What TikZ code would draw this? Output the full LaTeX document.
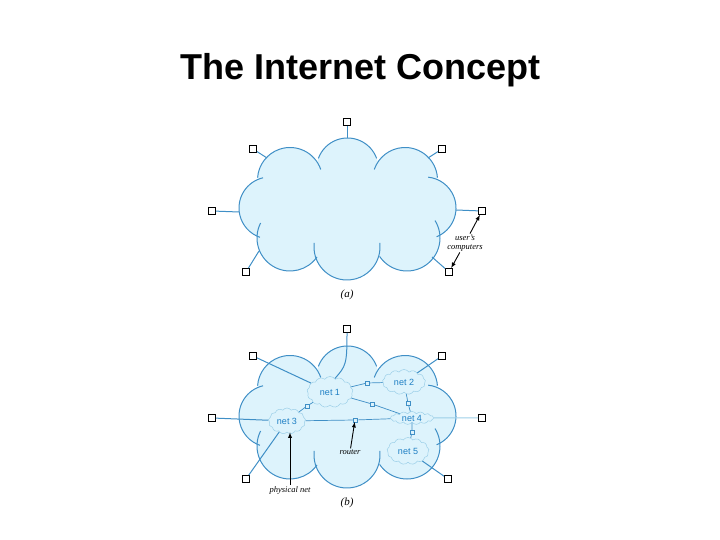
\documentclass[tikz,border=0pt]{standalone}
\usepackage{fontspec}
\usepackage{xcolor}
\setmainfont{Liberation Serif}
\setsansfont{Liberation Sans}
\usetikzlibrary{shapes.symbols, arrows, positioning}
\definecolor{cloudfill}{HTML}{DDF3FC}
\definecolor{cloudline}{HTML}{3F8FC6}
\definecolor{netline}{HTML}{9CCFE8}
\definecolor{nettext}{HTML}{1E7FC4}

\begin{document}
\begin{tikzpicture}[x=1pt,y=1pt,
    computer/.style={draw=black, fill=white, line width=0.9pt, minimum size=7pt, inner sep=0pt},
    router/.style={draw=cloudline, fill=cloudfill, line width=0.4pt, minimum size=3.5pt, inner sep=0pt},
    link/.style={draw=cloudline, line width=1pt},
    netcloud/.style={cloud, cloud ignores aspect, cloud puffs=13, cloud puff arc=110, draw=netline, fill=cloudfill,
        line width=0.5pt, inner sep=0pt, text=nettext, font=\sffamily\fontsize{9}{10}\selectfont},
    label/.style={font=\itshape\fontsize{8.5}{9}\selectfont, inner sep=1pt, align=center},
    caption/.style={font=\itshape\fontsize{11}{12}\selectfont, inner sep=1pt},
    pointer/.style={-latex, line width=0.9pt}]
\useasboundingbox (0,0) rectangle (720,540);

\node[font=\sffamily\bfseries\fontsize{36}{40}\selectfont] (title) at (360.5,470) {The Internet Concept};

% the big cloud, (a) on top and (b) below
\foreach \dy in {0,-208} {
    \foreach \cx/\cy/\r in {347.5/371/31, 290/360/32.5, 405/360/32.5, 270/332/31, 425/332/31, 290/302/33, 347/293/33, 407/302/33}
        \fill[cloudfill] (\cx,\cy+\dy) circle (\r);
    \fill[cloudfill] (270,300+\dy) rectangle (425,370+\dy);
    \foreach \cx/\cy/\r/\a/\b in {347.5/371/31/20/160, 290/360/32.5/19/176, 405/360/32.5/4/161, 270/332/31/103/251,
        425/332/31/-68/84, 290/302/33/153/325, 347/293/33/173/367, 407/302/33/214/392}
        \draw[link] (\cx,\cy+\dy) ++(\a:\r) arc (\a:\b:\r);
}

% part (a)
\foreach \n/\x/\y/\ex/\ey in {1/347/418/347/402, 2/253/391/267/382, 3/442/391/428/382, 4/212/329/239/328,
    5/482/329/456/330, 6/246/268/259/289, 7/449/268/432/283} {
    \coordinate (ea\n) at (\ex,\ey);
    \node[computer] (pa\n) at (\x,\y) {};
    \draw[link] (pa\n) -- (ea\n);
}
\node[label] (users) at (465,297) {user's\\computers};
\draw[pointer] (users) -- (pa5);
\draw[pointer] (users) -- (pa7);
\node[caption] (capa) at (347,245) {(a)};

% part (b)
\node[netcloud, minimum width=46pt, minimum height=31pt] (net1) at (330,148) {net 1};
\node[netcloud, minimum width=43pt, minimum height=25pt] (net2) at (404,158) {net 2};
\node[netcloud, minimum width=37pt, minimum height=26pt] (net3) at (287,119) {net 3};
\node[netcloud, cloud puffs=15, minimum width=43pt, minimum height=13pt] (net4) at (412,122) {net 4};
\node[netcloud, minimum width=42pt, minimum height=27pt] (net5) at (408,89) {net 5};

\foreach \n/\x/\y in {1/347/211, 2/253/184, 3/442/184, 4/212/122, 5/482/122, 6/246/61, 7/448/61}
    \node[computer] (pb\n) at (\x,\y) {};

\draw[link] (pb1) .. controls (347,176) and (346,174) .. (net1.70);
\draw[link] (pb2) -- (net1);
\draw[link] (pb3) -- (net2);
\draw[link] (pb4) -- (net3);
\draw[link, netline] (pb5) -- (net4);
\draw[link] (pb6) -- (net3);
\draw[link] (pb7) -- (net5);

\foreach \name/\x/\y/\from/\to in {r12/367/157/net1/net2, r13/307/134/net1/net3, r14/372/136/net1/net4,
    r34/355/120/net3/net4, r24/408/137/net2/net4, r45/412/108/net4/net5} {
    \node[router] (\name) at (\x,\y) {};
    \draw[link, line width=0.7pt] (\from) -- (\name);
    \draw[link, line width=0.7pt] (\name) -- (\to);
}

\node[label] (routertxt) at (350,88) {router};
\draw[pointer] (routertxt) -- (r34);
\node[label] (physnet) at (290,50) {physical net};
\draw[pointer] (physnet) -- (physnet |- net3.south);
\node[caption] (capb) at (347,37) {(b)};

\end{tikzpicture}
\end{document}
